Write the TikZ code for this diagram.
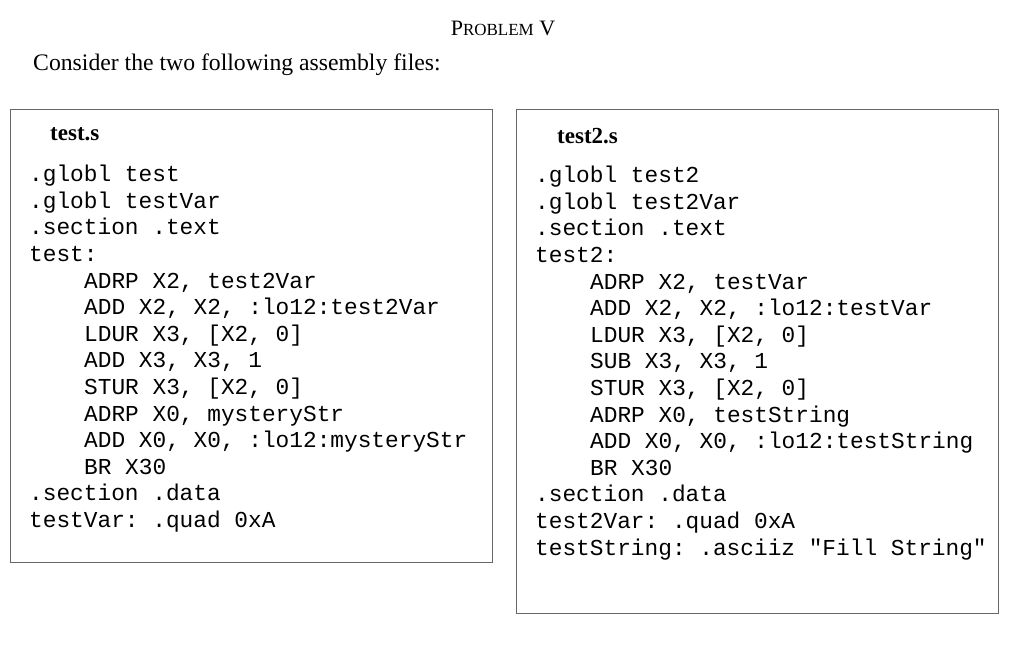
\documentclass[tikz,border=0pt]{standalone}
\usepackage{fontspec}
\setmainfont{Liberation Serif}
\setmonofont{Liberation Mono}
\begin{document}
\begin{tikzpicture}[x=1pt,y=-1pt,
  code/.style={anchor=north west,align=left,inner sep=0pt,font=\fontsize{22.8}{26.6}\ttfamily},
  ttl/.style={anchor=west,inner sep=0pt,font=\fontsize{23}{26}\bfseries},
  box/.style={draw=black!60,line width=0.8pt}]
\useasboundingbox (0,0) rectangle (1024,646);
\node[inner sep=0pt,font=\fontsize{22}{26}\selectfont] (title) at (503,28) {P{\fontsize{17}{20}\selectfont ROBLEM} V};
\node[anchor=west,inner sep=0pt,font=\fontsize{23.7}{27}\selectfont] (intro) at (33,65) {Consider the two following assembly files:};
\draw[box] (10,109) rectangle (492,562);
\draw[box] (516,109) rectangle (998,613);
\node[ttl] (t1) at (50,134) {test.s};
\node[ttl] (t2) at (557,136) {test2.s};
\node[code] (c1) at (29,165) {.globl test\\.globl testVar\\.section .text\\test:\\
\hspace*{55pt}ADRP X2, test2Var\\\hspace*{55pt}ADD X2, X2, :lo12:test2Var\\\hspace*{55pt}LDUR X3, [X2, 0]\\\hspace*{55pt}ADD X3, X3, 1\\\hspace*{55pt}STUR X3, [X2, 0]\\\hspace*{55pt}ADRP X0, mysteryStr\\\hspace*{55pt}ADD X0, X0, :lo12:mysteryStr\\\hspace*{55pt}BR X30\\.section .data\\testVar: .quad 0xA};
\node[code] (c2) at (535,166) {.globl test2\\.globl test2Var\\.section .text\\test2:\\
\hspace*{55pt}ADRP X2, testVar\\\hspace*{55pt}ADD X2, X2, :lo12:testVar\\\hspace*{55pt}LDUR X3, [X2, 0]\\\hspace*{55pt}SUB X3, X3, 1\\\hspace*{55pt}STUR X3, [X2, 0]\\\hspace*{55pt}ADRP X0, testString\\\hspace*{55pt}ADD X0, X0, :lo12:testString\\\hspace*{55pt}BR X30\\.section .data\\test2Var: .quad 0xA\\testString: .asciiz "Fill String"};
\end{tikzpicture}
\end{document}
